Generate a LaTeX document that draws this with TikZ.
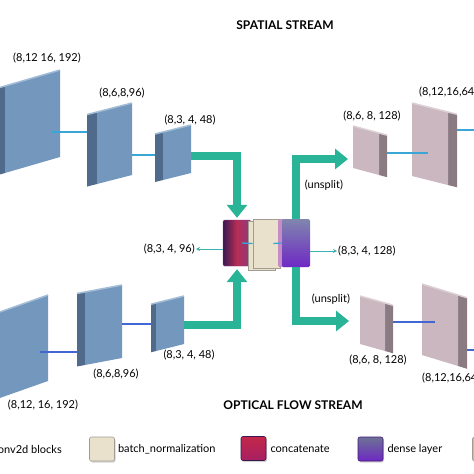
\documentclass[tikz,border=0pt]{standalone}
\usepackage{fontspec}
\setmainfont{Lato}
\usetikzlibrary{arrows.meta,positioning,fit,shadows}

\definecolor{encfront}{HTML}{7497BE}
\definecolor{encside}{HTML}{4F6A8A}
\definecolor{enctop}{HTML}{A3BDD6}
\definecolor{decfront}{HTML}{CAB7BF}
\definecolor{decside}{HTML}{8A7A82}
\definecolor{dectop}{HTML}{DDD0D5}
\definecolor{flowteal}{HTML}{29B497}
\definecolor{linkcyan}{HTML}{3AA6D6}
\definecolor{linkblue}{HTML}{4267D4}
\definecolor{tipteal}{HTML}{3CB2B2}
\definecolor{bnbeige}{HTML}{E9E1CB}
\definecolor{bnedge}{HTML}{A29C90}
\definecolor{catdark}{HTML}{3A1852}
\definecolor{catred}{HTML}{B82E55}
\definecolor{catedge}{HTML}{8A3A80}
\definecolor{densetop}{HTML}{8086AE}
\definecolor{densebot}{HTML}{6E28C4}

% encoder slab, side face on the left
\newcommand{\encblock}[7]{%
  \pgfmathsetmacro{\blkxs}{#2-#7}
  \pgfmathsetmacro{\blkys}{#4-(#5-#4)/(#3-#2)*#7}
  \pgfmathsetmacro{\blkyb}{\blkys+#6}
  \pgfmathsetmacro{\blkyf}{#4+#6}
  \pgfmathsetmacro{\blkyr}{#5+#6}
  \fill[encside] (#2,#4) -- (\blkxs,\blkys) -- (\blkxs,\blkyb) -- (#2,\blkyf) -- cycle;
  \fill[encfront] (#2,#4) -- (#3,#5) -- (#3,\blkyr) -- (#2,\blkyf) -- cycle;
  \draw[enctop, line width=1.5pt] (\blkxs,\blkys) -- (#2,#4) -- (#3,#5);
  \node[blockbox, fit={(\blkxs,#5) (#3,\blkyb)}] (#1) {};
}
% decoder slab, side face on the right
\newcommand{\decblock}[7]{%
  \pgfmathsetmacro{\blkxs}{#3+#7}
  \pgfmathsetmacro{\blkys}{#5+(#5-#4)/(#3-#2)*#7}
  \pgfmathsetmacro{\blkyb}{\blkys+#6}
  \pgfmathsetmacro{\blkyf}{#4+#6}
  \pgfmathsetmacro{\blkyr}{#5+#6}
  \fill[decside] (#3,#5) -- (\blkxs,\blkys) -- (\blkxs,\blkyb) -- (#3,\blkyr) -- cycle;
  \fill[decfront] (#2,#4) -- (#3,#5) -- (#3,\blkyr) -- (#2,\blkyf) -- cycle;
  \draw[dectop, line width=1.5pt] (#2,#4) -- (#3,#5) -- (\blkxs,\blkys);
  \node[blockbox, fit={(#2,#4) (\blkxs,\blkyb)}] (#1) {};
}

\tikzset{
  blockbox/.style = {inner sep=0pt},
  dimlabel/.style = {inner sep=1pt, font=\fontsize{11}{13}\selectfont},
  streamtitle/.style = {inner sep=1pt, font=\fontsize{12}{14}\selectfont\bfseries},
  legtext/.style = {inner sep=1pt, font=\fontsize{11}{13}\selectfont},
  uplink/.style = {draw=linkcyan, line width=1.3pt},
  downlink/.style = {draw=linkblue, line width=1.3pt},
  bigarrow/.style = {
    draw=flowteal,
    line width=8pt,
    line join=miter,
    -{Triangle[width=20pt,length=13pt]}
  },
  thinarrow/.style = {
    draw=tipteal,
    line width=0.8pt,
    -{Stealth[length=4pt,width=4pt]}
  },
  catbox/.style = {
    rectangle,
    rounded corners=1.5pt,
    draw=catedge,
    line width=0.4pt,
    left color=catdark,
    right color=catedge,
    middle color=catred,
    minimum width=28pt,
    minimum height=46pt
  },
  bnbox/.style = {
    rectangle,
    draw=bnedge,
    fill=bnbeige,
    line width=0.6pt,
    minimum width=27pt,
    minimum height=49pt,
    general shadow={fill=bnbeige, draw=bnedge, line width=0.6pt, shadow xshift=-5pt, shadow yshift=-2pt}
  },
  densebox/.style = {
    rectangle,
    rounded corners=1.5pt,
    top color=densetop,
    bottom color=densebot,
    minimum width=28pt,
    minimum height=48pt,
    general shadow={fill=violet!45, shadow xshift=-4pt, shadow yshift=0pt}
  },
  legbox/.style = {
    rectangle,
    rounded corners=2pt,
    draw=bnedge,
    line width=0.6pt,
    minimum width=25pt,
    minimum height=24pt,
    drop shadow={shadow xshift=1pt, shadow yshift=-1.5pt, opacity=0.35}
  }
}

\begin{document}
\begin{tikzpicture}[x=1pt, y=-1pt]
\useasboundingbox (0,0) rectangle (474,474);
\clip (0,0) rectangle (474,474);

% Titel
\node[streamtitle] (title-sp) at (285,25) {SPATIAL STREAM};
\node[streamtitle] (title-of) at (293,405) {OPTICAL FLOW STREAM};

% Spatial stream
\encblock{sb1}{5}{60}{86}{70}{87}{6}
\encblock{sb2}{97}{132}{112}{103}{72}{10}
\encblock{sb3}{163}{191}{132}{125}{48}{8}

% Optical flow stream
\encblock{ob1}{-3}{48}{313}{295}{86}{6}
\encblock{ob2}{85}{122}{292}{285}{73}{8}
\encblock{ob3}{156}{184}{303}{296}{48}{5}

% Decoder
\decblock{sa1}{353}{379}{126}{133}{42}{8}
\decblock{sa2}{412}{448}{103}{112}{73}{9}
\decblock{oa1}{360}{385}{296}{303}{48}{8}
\decblock{oa2}{422}{458}{284}{295}{71}{9}

% Mitte
\node[catbox] (cat) at (237,243) {};
\node[bnbox] (bn) at (266.5,243.5) {};
\node[densebox] (dense) at (296,243) {};

% Labels
\node[dimlabel] (lab-sb1) at (47,58) {(8,12 16, 192)};
\node[dimlabel] (lab-sb2) at (122,93) {(8,6,8,96)};
\node[dimlabel] (lab-sb3) at (190,120) {(8,3, 4, 48)};
\node[dimlabel, anchor=east] (lab-cat) at (196,249) {(8,3, 4, 96)};
\node[dimlabel, anchor=west] (lab-dense) at (337,251) {(8,3, 4, 128)};
\node[dimlabel] (lab-us1) at (324,185) {(unsplit)};
\node[dimlabel] (lab-sa1) at (372,116) {(8,6, 8, 128)};
\node[dimlabel, anchor=west] (lab-sa2) at (418,92) {(8,12,16,64)};
\node[dimlabel] (lab-ob1) at (43,405) {(8,12, 16, 192)};
\node[dimlabel] (lab-ob2) at (116,374) {(8,6,8,96)};
\node[dimlabel] (lab-ob3) at (189,355) {(8,3, 4, 48)};
\node[dimlabel] (lab-us2) at (331,299) {(unsplit)};
\node[dimlabel] (lab-oa1) at (378,360) {(8,6, 8, 128)};
\node[dimlabel, anchor=west] (lab-oa2) at (421,378) {(8,12,16,64)};

% Verbindungen
\coordinate (s1) at (52,132);
\coordinate (s2) at (132,155);
\coordinate (o1) at (40,352);
\coordinate (o2) at (122,324);
\coordinate (sp1) at (428,153);
\coordinate (sp2) at (480,130);
\coordinate (op1) at (435,322);
\coordinate (op2) at (480,350);
\draw[uplink] (s1) -- (s1 -| sb2.west);
\draw[uplink] (s2) -- (s2 -| sb3.west);
\draw[downlink] (o1) -- (o1 -| ob2.west);
\draw[downlink] (o2) -- (o2 -| ob3.west);
\draw[uplink] (sp1 -| sa1.east) -- (sp1);
\draw[uplink] (sp2 -| sa2.east) -- (sp2);
\draw[downlink] (op1 -| oa1.east) -- (op1);
\draw[downlink] (op2 -| oa2.east) -- (op2);
\draw[uplink] ([xshift=-9pt]cat.east) -- (bn.west);
\draw[uplink] ([xshift=-7pt]bn.east) -- (dense.west);

% Pfeile
\coordinate (s3out) at (191,156);
\coordinate (o3out) at (184,325);
\coordinate (sa1in) at (348,159);
\coordinate (oa1in) at (349,321);
\draw[bigarrow, shorten >=2pt] (s3out) -| (cat.north);
\draw[bigarrow, shorten >=3pt] (o3out) -| (cat.south);
\draw[bigarrow] (dense.north) |- (sa1in);
\draw[bigarrow] (dense.south) |- (oa1in);
\draw[thinarrow] (cat.west |- lab-cat.east) -- (lab-cat.east);
\draw[thinarrow] (dense.east |- lab-dense.west) -- (lab-dense.west);

% Legende
\node[legtext, anchor=east] (leg-conv-t) at (63,449) {conv2d blocks};
\node[legbox, fill=bnbeige] (leg-bn) at (102,449) {};
\node[legtext, right=2pt of leg-bn] (leg-bn-t) {batch\_normalization};
\node[legbox, top color=catred!85!red, bottom color=catred!70!violet, draw=catdark] (leg-cat) at (253.5,448.5) {};
\node[legtext, right=3pt of leg-cat] (leg-cat-t) {concatenate};
\node[legbox, top color=densetop!85!black, bottom color=densebot, draw=densebot!60!black] (leg-dense) at (370.5,449) {};
\node[legtext, right=3pt of leg-dense] (leg-dense-t) {dense layer};
\node[legbox, fill=decfront] (leg-dec) at (485,449) {};

\end{tikzpicture}
\end{document}
